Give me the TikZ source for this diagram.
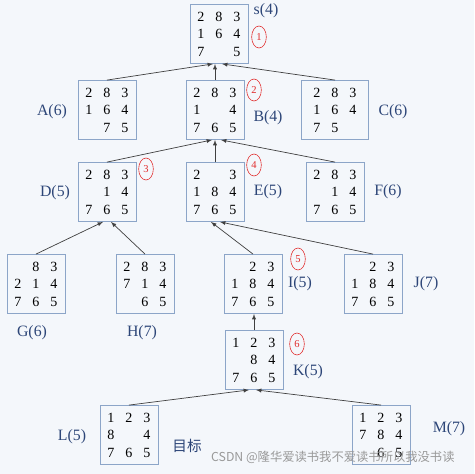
\documentclass[tikz,border=0pt]{standalone}
\usepackage{fontspec}
\setmainfont{Liberation Serif}
\newfontfamily\cjk{Noto Sans CJK SC}
\usetikzlibrary{shapes.geometric}

\definecolor{bgblue}{RGB}{244,247,251}
\definecolor{boxline}{RGB}{140,165,200}
\definecolor{labelblue}{RGB}{45,70,120}
\definecolor{markred}{RGB}{225,45,45}

\newcommand{\cell}[1]{\makebox[0.54cm]{#1}}
\newcommand{\grid}[9]{\cell{#1}\cell{#2}\cell{#3}\\\cell{#4}\cell{#5}\cell{#6}\\\cell{#7}\cell{#8}\cell{#9}}

\begin{document}
\begin{tikzpicture}[x=0.03cm,y=-0.03cm,
  state/.style={draw=boxline,line width=0.7pt,minimum width=1.74cm,minimum height=1.77cm,
    inner sep=0pt,align=center,font=\fontsize{12}{14.9}\selectfont},
  lbl/.style={text=labelblue,inner sep=0pt,font=\fontsize{13.5}{16}\selectfont},
  order/.style={ellipse,draw=markred,text=markred,line width=0.5pt,minimum width=0.44cm,
    minimum height=0.66cm,inner sep=0pt,font=\fontsize{9}{9}\selectfont},
  link/.style={-latex,draw=black!75,line width=0.6pt}]
  \fill[bgblue] (0,0) rectangle (474,474);
  \useasboundingbox (0,0) rectangle (474,474);

  \node[state] (s) at (219,34) {\grid{2}{8}{3}{1}{6}{4}{7}{}{5}};
  \node[lbl] (sl) at (266,11) {s(4)};
  \node[order] (o1) at (259,37) {1};

  \node[state] (a) at (107,110) {\grid{2}{8}{3}{1}{6}{4}{}{7}{5}};
  \node[lbl] (al) at (52,112) {A(6)};
  \node[state] (b) at (215,110) {\grid{2}{8}{3}{1}{}{4}{7}{6}{5}};
  \node[lbl] (bl) at (268,118) {B(4)};
  \node[order] (o2) at (254,90) {2};
  \node[state,minimum width=2.01cm] (c) at (335,110) {\grid{2}{8}{3}{1}{6}{4}{7}{5}{}};
  \node[lbl] (cl) at (393,112) {C(6)};

  \node[state] (d) at (107,192) {\grid{2}{8}{3}{}{1}{4}{7}{6}{5}};
  \node[lbl] (dl) at (55,193) {D(5)};
  \node[order] (o3) at (146,169) {3};
  \node[state] (e) at (215,192) {\grid{2}{}{3}{1}{8}{4}{7}{6}{5}};
  \node[lbl] (el) at (268,192) {E(5)};
  \node[order] (o4) at (254,165) {4};
  \node[state] (f) at (335,192) {\grid{2}{8}{3}{}{1}{4}{7}{6}{5}};
  \node[lbl] (fl) at (388,192) {F(6)};

  \node[state] (g) at (36,284) {\grid{}{8}{3}{2}{1}{4}{7}{6}{5}};
  \node[lbl] (gl) at (32,333) {G(6)};
  \node[state] (h) at (145,284) {\grid{2}{8}{3}{7}{1}{4}{}{6}{5}};
  \node[lbl] (hl) at (142,333) {H(7)};
  \node[state] (i) at (253,284) {\grid{}{2}{3}{1}{8}{4}{7}{6}{5}};
  \node[lbl] (il) at (300,284) {I(5)};
  \node[order] (o5) at (298,259) {5};
  \node[state] (j) at (373,284) {\grid{}{2}{3}{1}{8}{4}{7}{6}{5}};
  \node[lbl] (jl) at (426,284) {J(7)};

  \node[state] (k) at (254,360) {\grid{1}{2}{3}{}{8}{4}{7}{6}{5}};
  \node[lbl] (kl) at (308,372) {K(5)};
  \node[order] (o6) at (297,344) {6};

  \node[state] (l) at (129,435) {\grid{1}{2}{3}{8}{}{4}{7}{6}{5}};
  \node[lbl] (ll) at (72,437) {L(5)};
  \node[lbl,font=\cjk\fontsize{12.5}{14}\selectfont] (goal) at (187,446) {目标};
  \node[state] (m) at (381,435) {\grid{1}{2}{3}{7}{8}{4}{}{6}{5}};
  \node[lbl] (ml) at (449,429) {M(7)};

  \draw[link] (a.north) -- ([shift={(-6,0)}]s.south);
  \draw[link] (b.north) -- (b.north |- s.south);
  \draw[link] (c.north) -- ([shift={(3,0)}]s.south);

  \draw[link] (d.north) -- ([shift={(-3,0)}]b.south);
  \draw[link] (e.north) -- (e.north |- b.south);
  \draw[link] (f.north) -- ([shift={(6,0)}]b.south);

  \draw[link] (g.north) -- ([shift={(-4,0)}]d.south);
  \draw[link] (h.north) -- ([shift={(4,0)}]d.south);
  \draw[link] (i.north) -- ([shift={(-4,0)}]e.south);
  \draw[link] (j.north) -- ([shift={(5,0)}]e.south);

  \draw[link] (k.north) -- (k.north |- i.south);

  \draw[link] (l.north) -- ([shift={(-5,0)}]k.south);
  \draw[link] (m.north) -- ([shift={(2,0)}]k.south);

  \node[anchor=west,text=black!40,font=\cjk\fontsize{10.5}{12}\selectfont] (wm) at (207,457)
    {CSDN @隆华爱读书我不爱读书所以我没书读};
\end{tikzpicture}
\end{document}
